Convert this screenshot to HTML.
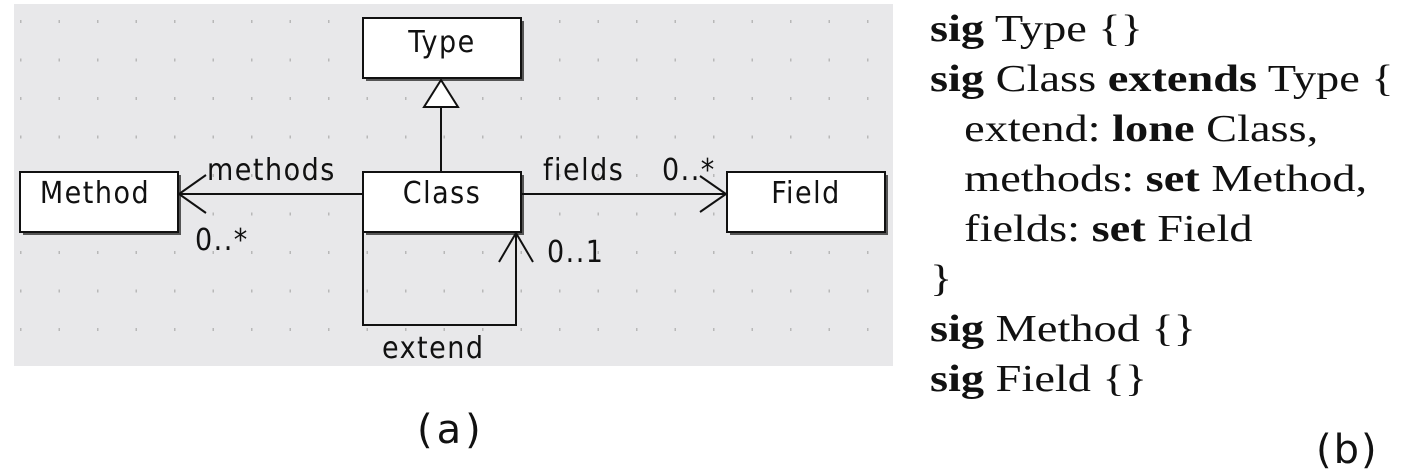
<!DOCTYPE html>
<html><head><meta charset="utf-8"><style>
html,body{margin:0;padding:0;background:#fff;}
svg{display:block}
</style></head><body>
<svg width="1405" height="475" xmlns="http://www.w3.org/2000/svg">
<defs>
<pattern id="g" x="20" y="20" width="38.5" height="38.5" patternUnits="userSpaceOnUse">
<rect x="0" y="0" width="1.5" height="3" fill="#b8b8b8"/>
</pattern>
</defs>
<rect x="14" y="4" width="879" height="362" fill="#e8e8ea"/>
<rect x="14" y="4" width="879" height="362" fill="url(#g)"/>
<g font-family="'DejaVu Sans Condensed','Liberation Sans',sans-serif" font-size="30" fill="#111" letter-spacing="1.5">
<g fill="#555"><rect x="366" y="21" width="158" height="60"/><rect x="366" y="175" width="158" height="60"/><rect x="23" y="175" width="158" height="60"/><rect x="730" y="175" width="158" height="60"/></g>
<g fill="#fff" stroke="#111" stroke-width="2">
<rect x="363" y="18" width="158" height="60"/>
<rect x="363" y="172" width="158" height="60"/>
<rect x="20" y="172" width="158" height="60"/>
<rect x="727" y="172" width="158" height="60"/>
</g>
<text x="442" y="52" text-anchor="middle">Type</text>
<text x="442" y="203" text-anchor="middle">Class</text>
<text x="95" y="203" text-anchor="middle">Method</text>
<text x="806" y="203" text-anchor="middle">Field</text>
<g stroke="#111" stroke-width="2" fill="none">
<line x1="441" y1="107" x2="441" y2="172"/>
<polygon points="441,80 424,107 458,107" fill="#fff"/>
<line x1="178" y1="194" x2="363" y2="194"/>
<polyline points="206,175 179,194 206,213"/>
<line x1="521" y1="194" x2="727" y2="194"/>
<polyline points="700,176 726,194 700,212"/>
<polyline points="363,232 363,325 516,325 516,233"/>
<polyline points="499,262 516,233 533,262"/>
</g>
<text x="207" y="180">methods</text>
<text x="195" y="250">0..*</text>
<text x="543" y="180">fields</text>
<text x="662" y="180">0..*</text>
<text x="547" y="262">0..1</text>
<text x="382" y="358">extend</text>
</g>
<text x="417" y="443" font-family="'DejaVu Sans','Liberation Sans',sans-serif" font-size="40" letter-spacing="4" fill="#111">(a)</text>
<text x="1316" y="463" font-family="'DejaVu Sans','Liberation Sans',sans-serif" font-size="40" letter-spacing="2" fill="#111">(b)</text>
<g font-family="'Liberation Serif',serif" font-size="38" fill="#111" transform="translate(930,0) scale(1.22,1)">
<text x="0" y="41"><tspan font-weight="bold">sig</tspan> Type {}</text>
<text x="0" y="91"><tspan font-weight="bold">sig</tspan> Class <tspan font-weight="bold">extends</tspan> Type {</text>
<text x="28" y="141">extend: <tspan font-weight="bold">lone</tspan> Class,</text>
<text x="28" y="191">methods: <tspan font-weight="bold">set</tspan> Method,</text>
<text x="28" y="241">fields: <tspan font-weight="bold">set</tspan> Field</text>
<text x="0" y="291">}</text>
<text x="0" y="341"><tspan font-weight="bold">sig</tspan> Method {}</text>
<text x="0" y="391"><tspan font-weight="bold">sig</tspan> Field {}</text>
</g>
</svg>
</body></html>
